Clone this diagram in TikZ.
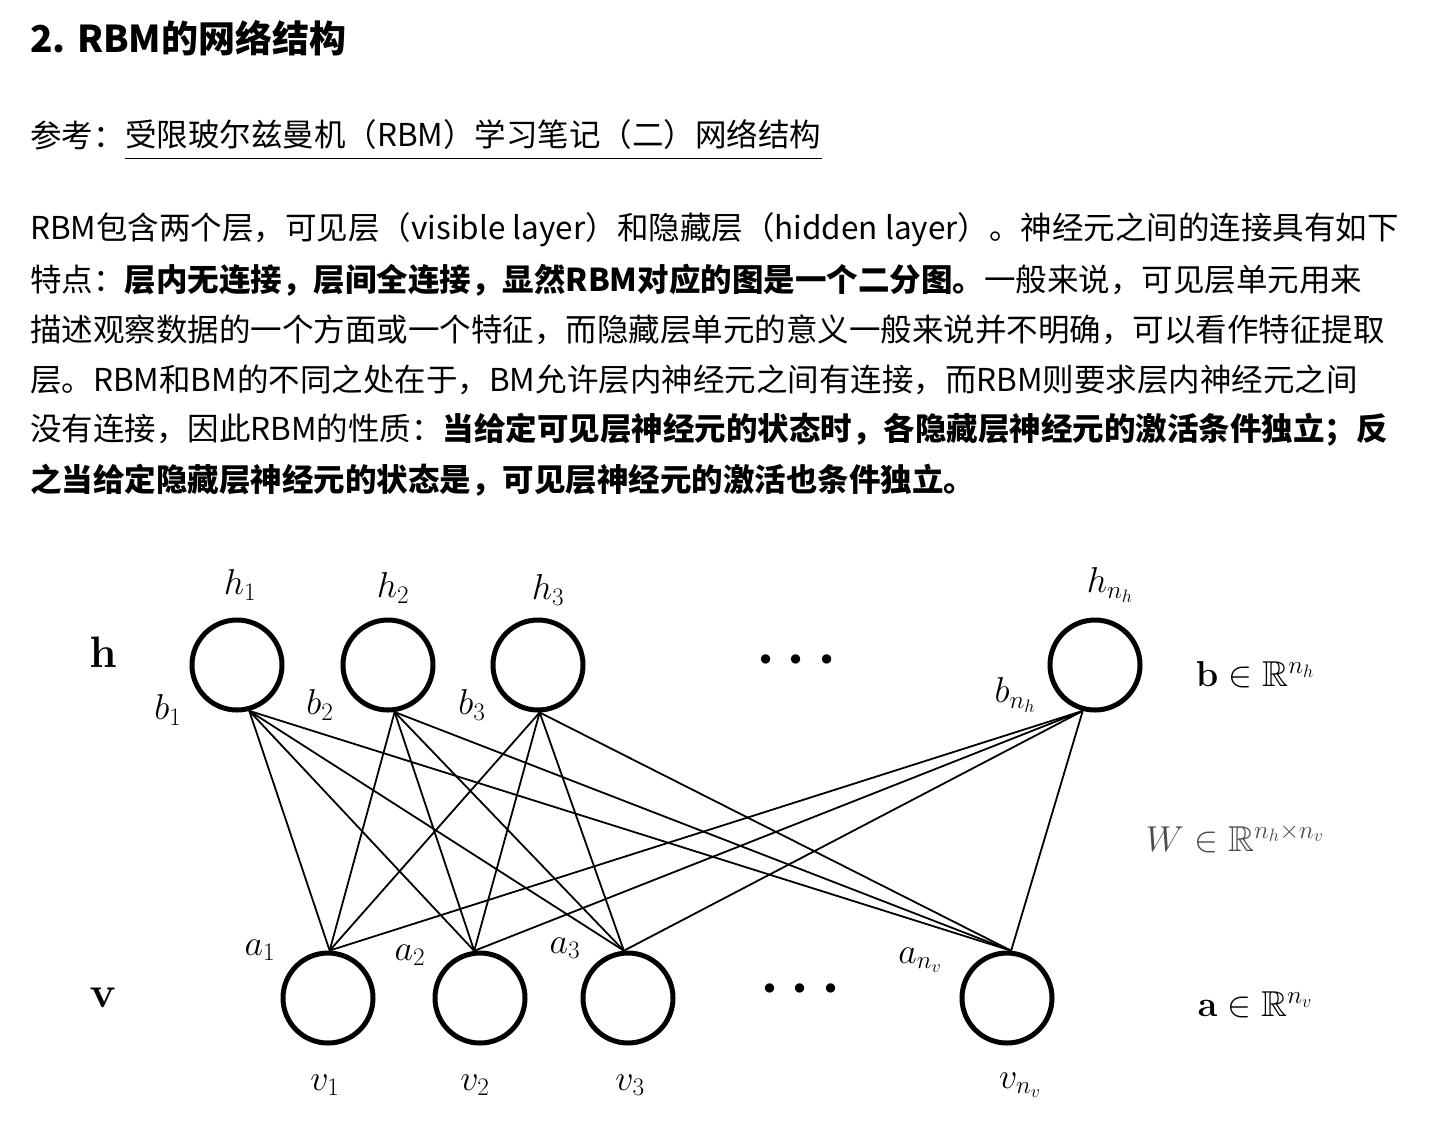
\RequirePackage{fix-cm}
\documentclass[tikz,border=0pt]{standalone}
\usepackage{amsmath,amssymb}
\usepackage[no-math]{fontspec}
\setmainfont{Noto Sans CJK SC}
\begin{document}
\begin{tikzpicture}[x=1pt,y=-1pt,
  txt/.style={anchor=west,inner sep=0pt,font=\fontsize{31.5}{34}\selectfont},
  neuron/.style={circle,draw,line width=5pt,minimum size=90pt,inner sep=0pt},
  lab/.style={inner sep=0pt,font=\fontsize{36}{40}\selectfont},
  dotsty/.style={inner sep=0pt,font=\fontsize{60}{64}\selectfont},
  edge/.style={line width=1.8pt}]
\useasboundingbox (0,0) rectangle (1442,1144);
\node[txt,font=\fontsize{37}{40}\selectfont\bfseries] (title) at (30,38) {2. RBM的网络结构};
\node[txt] (ref) at (30,135) {参考：};
\node[txt] (link) at (ref.east) {受限玻尔兹曼机（RBM）学习笔记（二）网络结构};
\draw[line width=1pt] ([yshift=-8pt]link.south west) -- ([yshift=-8pt]link.south east);
\node[txt] (l1) at (30,230) {RBM包含两个层，可见层（visible layer）和隐藏层（hidden layer）。神经元之间的连接具有如下};
\node[txt] (l2) at (30,280) {特点：\textbf{层内无连接，层间全连接，显然RBM对应的图是一个二分图。}一般来说，可见层单元用来};
\node[txt] (l3) at (30,330) {描述观察数据的一个方面或一个特征，而隐藏层单元的意义一般来说并不明确，可以看作特征提取};
\node[txt] (l4) at (30,380) {层。RBM和BM的不同之处在于，BM允许层内神经元之间有连接，而RBM则要求层内神经元之间};
\node[txt] (l5) at (30,430) {没有连接，因此RBM的性质：\textbf{当给定可见层神经元的状态时，各隐藏层神经元的激活条件独立；反}};
\node[txt] (l6) at (30,480) {\textbf{之当给定隐藏层神经元的状态是，可见层神经元的激活也条件独立。}};

\node[neuron] (h1) at (237,665) {};
\node[neuron] (h2) at (388,665) {};
\node[neuron] (h3) at (538,665) {};
\node[neuron] (hn) at (1095,665) {};
\node[neuron] (v1) at (328,998) {};
\node[neuron] (v2) at (480,998) {};
\node[neuron] (v3) at (628,998) {};
\node[neuron] (vn) at (1007,998) {};
\foreach \h/\a in {h1/-75,h2/-82,h3/-88,hn/-105}
  \foreach \v/\b in {v1/88,v2/97,v3/95,vn/85}
    \draw[edge] (\h.\a) -- (\v.\b);

\node[lab] at (240,585) {$h_1$};
\node[lab] at (393,588) {$h_2$};
\node[lab] at (548,590) {$h_3$};
\node[lab] at (1110,585) {$h_{n_h}$};
\node[lab] at (168,710) {$b_1$};
\node[lab] at (320,705) {$b_2$};
\node[lab] at (472,705) {$b_3$};
\node[lab] at (1015,695) {$b_{n_h}$};
\node[lab] at (260,950) {$a_1$};
\node[lab] at (410,955) {$a_2$};
\node[lab] at (565,948) {$a_3$};
\node[lab] at (920,960) {$a_{n_v}$};
\node[lab] at (325,1085) {$v_1$};
\node[lab] at (475,1085) {$v_2$};
\node[lab] at (630,1085) {$v_3$};
\node[lab] at (1020,1085) {$v_{n_v}$};
\node[lab,font=\fontsize{44}{48}\selectfont] at (103,652) {$\mathbf{h}$};
\node[lab,font=\fontsize{44}{48}\selectfont] at (103,998) {$\mathbf{v}$};
\node[dotsty] at (802,660) {$\boldsymbol{\cdots}$};
\node[dotsty] at (806,989) {$\boldsymbol{\cdots}$};
\node[lab] at (1255,675) {$\mathbf{b}\in\mathbb{R}^{n_h}$};
\node[lab,text=black!70] at (1235,838) {$W\in\mathbb{R}^{n_h\times n_v}$};
\node[lab] at (1255,1005) {$\mathbf{a}\in\mathbb{R}^{n_v}$};
\end{tikzpicture}
\end{document}
